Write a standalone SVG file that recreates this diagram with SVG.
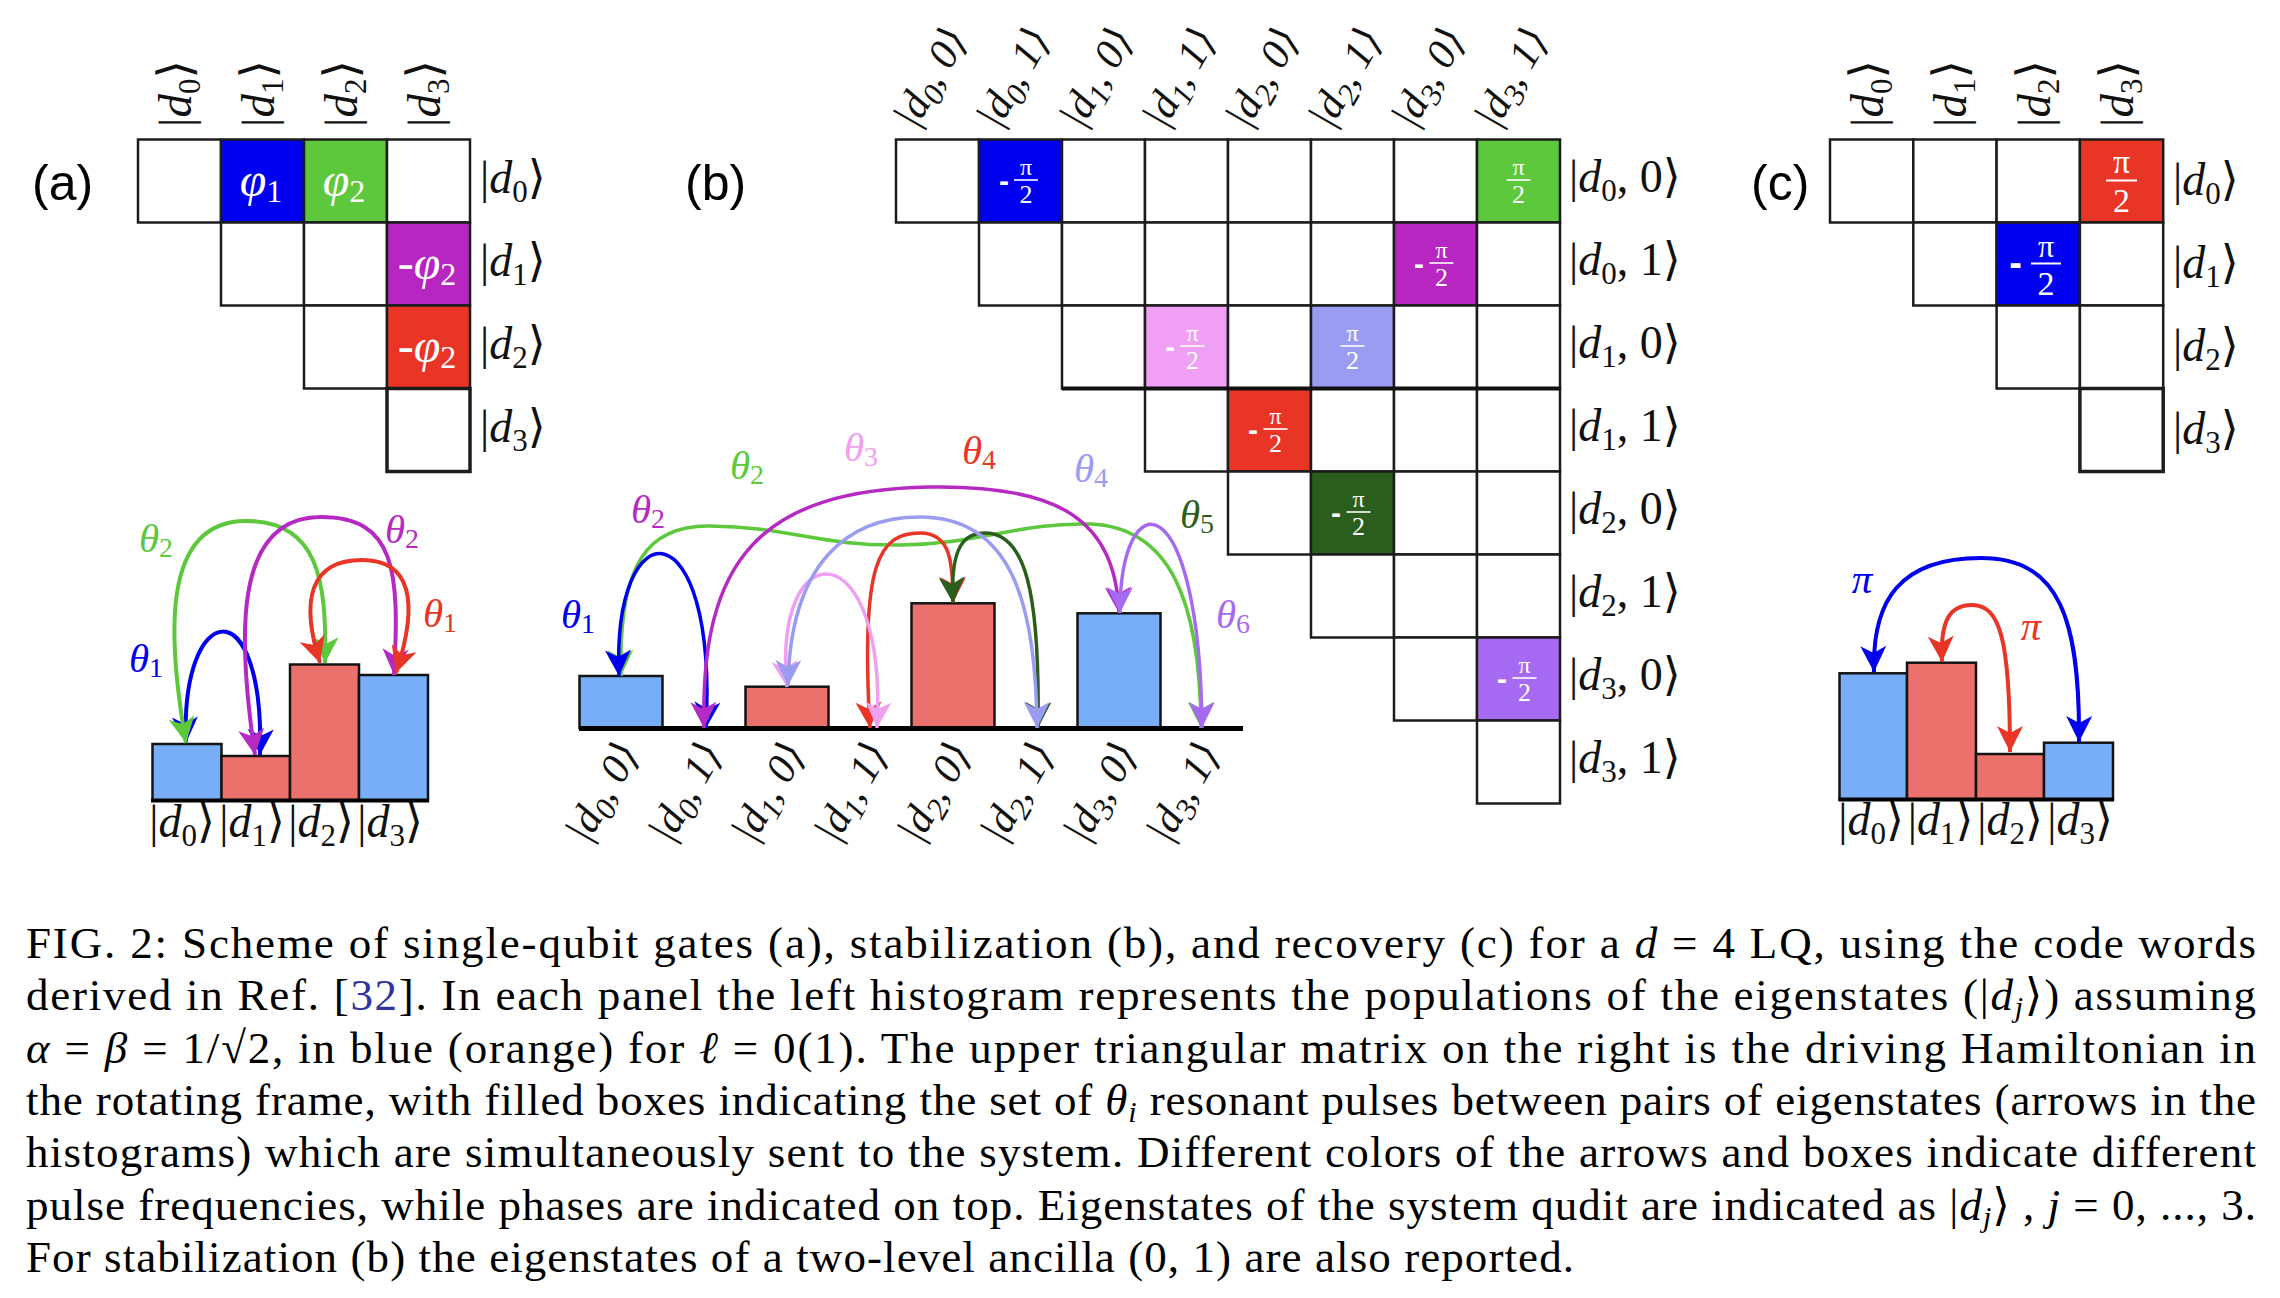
<svg xmlns="http://www.w3.org/2000/svg" width="2280" height="1298" viewBox="0 0 2280 1298">
<defs>
<style>
.cell{fill:#fff;stroke:#1c1c1c;stroke-width:2.5}
.lb{font-family:"Liberation Serif","DejaVu Serif","DejaVu Sans",serif;font-size:46px;fill:#111}
.lr{font-family:"Liberation Serif","DejaVu Serif","DejaVu Sans",serif;font-size:42px;fill:#111;font-style:italic;text-anchor:middle}
.it{font-style:italic}
.sb{font-size:31px}
.pl{font-family:"Liberation Sans","Open Sans",sans-serif;font-size:50px;fill:#000}
.wt{fill:#fff;font-family:"Liberation Serif","DejaVu Serif",serif;text-anchor:middle}
.mn{fill:#fff;font-family:"Liberation Sans",sans-serif;font-weight:bold;text-anchor:middle}
.frl{stroke:#fff;stroke-width:1.6}
.bar{stroke:#141414;stroke-width:2.5}
.qb{fill:#77AEF7}
.qr{fill:#EC706B}
.base{stroke:#000;stroke-width:5}
.ar{fill:none;stroke-width:4}
.th{font-family:"Liberation Serif","DejaVu Serif",serif;font-size:41px;text-anchor:middle}
.cap{font-family:"Liberation Serif","DejaVu Serif","DejaVu Sans",serif;font-size:45px;fill:#000}
</style>
<marker id="hBl" viewBox="-27 -14 28 28" refX="0" refY="0" markerWidth="28" markerHeight="28" markerUnits="userSpaceOnUse" orient="auto-start-reverse"><path d="M0,0 L-26,-13 L-19,0 L-26,13 Z" fill="#0000EE"/></marker>
<marker id="hGr" viewBox="-27 -14 28 28" refX="0" refY="0" markerWidth="28" markerHeight="28" markerUnits="userSpaceOnUse" orient="auto-start-reverse"><path d="M0,0 L-26,-13 L-19,0 L-26,13 Z" fill="#5DC83C"/></marker>
<marker id="hMg" viewBox="-27 -14 28 28" refX="0" refY="0" markerWidth="28" markerHeight="28" markerUnits="userSpaceOnUse" orient="auto-start-reverse"><path d="M0,0 L-26,-13 L-19,0 L-26,13 Z" fill="#B52AC2"/></marker>
<marker id="hRd" viewBox="-27 -14 28 28" refX="0" refY="0" markerWidth="28" markerHeight="28" markerUnits="userSpaceOnUse" orient="auto-start-reverse"><path d="M0,0 L-26,-13 L-19,0 L-26,13 Z" fill="#E83526"/></marker>
<marker id="hPk" viewBox="-27 -14 28 28" refX="0" refY="0" markerWidth="28" markerHeight="28" markerUnits="userSpaceOnUse" orient="auto-start-reverse"><path d="M0,0 L-26,-13 L-19,0 L-26,13 Z" fill="#F0A0F0"/></marker>
<marker id="hLv" viewBox="-27 -14 28 28" refX="0" refY="0" markerWidth="28" markerHeight="28" markerUnits="userSpaceOnUse" orient="auto-start-reverse"><path d="M0,0 L-26,-13 L-19,0 L-26,13 Z" fill="#9A9CF2"/></marker>
<marker id="hDg" viewBox="-27 -14 28 28" refX="0" refY="0" markerWidth="28" markerHeight="28" markerUnits="userSpaceOnUse" orient="auto-start-reverse"><path d="M0,0 L-26,-13 L-19,0 L-26,13 Z" fill="#2B5E1C"/></marker>
<marker id="hPu" viewBox="-27 -14 28 28" refX="0" refY="0" markerWidth="28" markerHeight="28" markerUnits="userSpaceOnUse" orient="auto-start-reverse"><path d="M0,0 L-26,-13 L-19,0 L-26,13 Z" fill="#A66AF2"/></marker>
</defs>
<rect width="2280" height="1298" fill="#fff"/>

<!-- ===== Panel (a) ===== -->
<g id="panel-a">
<text class="pl" x="32" y="200">(a)</text>
<g id="a-matrix">
<rect class="cell" x="138" y="139.5" width="83" height="83"/>
<rect class="cell" x="221" y="139.5" width="83" height="83" style="fill:#0000F0"/>
<rect class="cell" x="304" y="139.5" width="83" height="83" style="fill:#5DC83C"/>
<rect class="cell" x="387" y="139.5" width="83" height="83"/>
<rect class="cell" x="221" y="222.5" width="83" height="83"/>
<rect class="cell" x="304" y="222.5" width="83" height="83"/>
<rect class="cell" x="387" y="222.5" width="83" height="83" style="fill:#B726C0"/>
<rect class="cell" x="304" y="305.5" width="83" height="83"/>
<rect class="cell" x="387" y="305.5" width="83" height="83" style="fill:#E83526"/>
<rect class="cell" x="387" y="388.5" width="83" height="83" style="stroke-width:3.5"/>
<text class="wt" x="261" y="196" font-size="48"><tspan class="it">φ</tspan><tspan font-size="32" dy="6">1</tspan></text>
<text class="wt" x="344" y="196" font-size="48"><tspan class="it">φ</tspan><tspan font-size="32" dy="6">2</tspan></text>
<text class="wt" x="427" y="279" font-size="48">-<tspan class="it">φ</tspan><tspan font-size="32" dy="6">2</tspan></text>
<text class="wt" x="427" y="362" font-size="48">-<tspan class="it">φ</tspan><tspan font-size="32" dy="6">2</tspan></text>
</g>
<g id="a-collabels" class="lb" style="font-size:47px" text-anchor="middle">
<text transform="translate(191,93.5) rotate(-90)">|<tspan class="it">d</tspan><tspan class="sb" dy="9">0</tspan><tspan dy="-9">⟩</tspan></text>
<text transform="translate(274,93.5) rotate(-90)">|<tspan class="it">d</tspan><tspan class="sb" dy="9">1</tspan><tspan dy="-9">⟩</tspan></text>
<text transform="translate(357,93.5) rotate(-90)">|<tspan class="it">d</tspan><tspan class="sb" dy="9">2</tspan><tspan dy="-9">⟩</tspan></text>
<text transform="translate(440,93.5) rotate(-90)">|<tspan class="it">d</tspan><tspan class="sb" dy="9">3</tspan><tspan dy="-9">⟩</tspan></text>
</g>
<g id="a-rowlabels" class="lb">
<text x="480" y="193">|<tspan class="it">d</tspan><tspan class="sb" dy="9">0</tspan><tspan dy="-9">⟩</tspan></text>
<text x="480" y="276">|<tspan class="it">d</tspan><tspan class="sb" dy="9">1</tspan><tspan dy="-9">⟩</tspan></text>
<text x="480" y="359">|<tspan class="it">d</tspan><tspan class="sb" dy="9">2</tspan><tspan dy="-9">⟩</tspan></text>
<text x="480" y="442">|<tspan class="it">d</tspan><tspan class="sb" dy="9">3</tspan><tspan dy="-9">⟩</tspan></text>
</g>
<g id="a-hist">
<g id="a-d0"><rect class="bar qb" x="152.5" y="744" width="69" height="56.5"/><text class="lb" x="182" y="837" text-anchor="middle">|<tspan class="it">d</tspan><tspan class="sb" dy="9">0</tspan><tspan dy="-9">⟩</tspan></text></g>
<g id="a-d1"><rect class="bar qr" x="221.5" y="756" width="68.5" height="44.5"/><text class="lb" x="252" y="837" text-anchor="middle">|<tspan class="it">d</tspan><tspan class="sb" dy="9">1</tspan><tspan dy="-9">⟩</tspan></text></g>
<g id="a-d2"><rect class="bar qr" x="290" y="664.5" width="69" height="136"/><text class="lb" x="321" y="837" text-anchor="middle">|<tspan class="it">d</tspan><tspan class="sb" dy="9">2</tspan><tspan dy="-9">⟩</tspan></text></g>
<g id="a-d3"><rect class="bar qb" x="359" y="675" width="69" height="125.5"/><text class="lb" x="390" y="837" text-anchor="middle">|<tspan class="it">d</tspan><tspan class="sb" dy="9">3</tspan><tspan dy="-9">⟩</tspan></text></g>
<line class="base" x1="151" y1="800.5" x2="429" y2="800.5" style="stroke-width:4"/>
</g>
<g id="a-thetas">
<text class="th" x="156" y="552" fill="#5DC83C"><tspan class="it">θ</tspan><tspan font-size="28" dy="5">2</tspan></text>
<text class="th" x="402" y="543" fill="#B52AC2"><tspan class="it">θ</tspan><tspan font-size="28" dy="5">2</tspan></text>
<text class="th" x="440" y="627" fill="#E83526"><tspan class="it">θ</tspan><tspan font-size="28" dy="5">1</tspan></text>
<text class="th" x="146" y="672" fill="#0000EE"><tspan class="it">θ</tspan><tspan font-size="28" dy="5">1</tspan></text>
</g>
</g>

<!-- ===== Panel (b) ===== -->
<g id="panel-b">
<text class="pl" x="685" y="200">(b)</text>
<g id="b-matrix">
<rect class="cell" x="896" y="139.5" width="83" height="83"/>
<rect class="cell" x="979" y="139.5" width="83" height="83" style="fill:#0000F0"/>
<rect class="cell" x="1062" y="139.5" width="83" height="83"/>
<rect class="cell" x="1145" y="139.5" width="83" height="83"/>
<rect class="cell" x="1228" y="139.5" width="83" height="83"/>
<rect class="cell" x="1311" y="139.5" width="83" height="83"/>
<rect class="cell" x="1394" y="139.5" width="83" height="83"/>
<rect class="cell" x="1477" y="139.5" width="83" height="83" style="fill:#5DC83C"/>
<rect class="cell" x="979" y="222.5" width="83" height="83"/>
<rect class="cell" x="1062" y="222.5" width="83" height="83"/>
<rect class="cell" x="1145" y="222.5" width="83" height="83"/>
<rect class="cell" x="1228" y="222.5" width="83" height="83"/>
<rect class="cell" x="1311" y="222.5" width="83" height="83"/>
<rect class="cell" x="1394" y="222.5" width="83" height="83" style="fill:#B726C0"/>
<rect class="cell" x="1477" y="222.5" width="83" height="83"/>
<rect class="cell" x="1062" y="305.5" width="83" height="83"/>
<rect class="cell" x="1145" y="305.5" width="83" height="83" style="fill:#F0A0F4"/>
<rect class="cell" x="1228" y="305.5" width="83" height="83"/>
<rect class="cell" x="1311" y="305.5" width="83" height="83" style="fill:#9A9CF2"/>
<rect class="cell" x="1394" y="305.5" width="83" height="83"/>
<rect class="cell" x="1477" y="305.5" width="83" height="83"/>
<rect class="cell" x="1145" y="388.5" width="83" height="83"/>
<rect class="cell" x="1228" y="388.5" width="83" height="83" style="fill:#E83526"/>
<rect class="cell" x="1311" y="388.5" width="83" height="83"/>
<rect class="cell" x="1394" y="388.5" width="83" height="83"/>
<rect class="cell" x="1477" y="388.5" width="83" height="83"/>
<rect class="cell" x="1228" y="471.5" width="83" height="83"/>
<rect class="cell" x="1311" y="471.5" width="83" height="83" style="fill:#2B5E1C"/>
<rect class="cell" x="1394" y="471.5" width="83" height="83"/>
<rect class="cell" x="1477" y="471.5" width="83" height="83"/>
<rect class="cell" x="1311" y="554.5" width="83" height="83"/>
<rect class="cell" x="1394" y="554.5" width="83" height="83"/>
<rect class="cell" x="1477" y="554.5" width="83" height="83"/>
<rect class="cell" x="1394" y="637.5" width="83" height="83"/>
<rect class="cell" x="1477" y="637.5" width="83" height="83" style="fill:#A66AF2"/>
<rect class="cell" x="1477" y="720.5" width="83" height="83"/>
<line x1="1062" y1="388.5" x2="1560" y2="388.5" stroke="#111" stroke-width="4"/>
</g>
<g id="b-phases">
<text class="mn" x="1004" y="191" font-size="30">-</text><text class="wt" x="1026" y="175" font-size="24">π</text><line class="frl" x1="1014" y1="180" x2="1038" y2="180"/><text class="wt" x="1026" y="203" font-size="26">2</text>
<text class="wt" x="1518.5" y="175" font-size="24">π</text><line class="frl" x1="1506.5" y1="180" x2="1530.5" y2="180"/><text class="wt" x="1518.5" y="203" font-size="26">2</text>
<text class="mn" x="1419" y="274" font-size="30">-</text><text class="wt" x="1441.5" y="258" font-size="24">π</text><line class="frl" x1="1429.5" y1="263" x2="1453.5" y2="263"/><text class="wt" x="1441.5" y="286" font-size="26">2</text>
<text class="mn" x="1170" y="357" font-size="30">-</text><text class="wt" x="1192.5" y="341" font-size="24">π</text><line class="frl" x1="1180.5" y1="346" x2="1204.5" y2="346"/><text class="wt" x="1192.5" y="369" font-size="26">2</text>
<text class="wt" x="1352.5" y="341" font-size="24">π</text><line class="frl" x1="1340.5" y1="346" x2="1364.5" y2="346"/><text class="wt" x="1352.5" y="369" font-size="26">2</text>
<text class="mn" x="1253" y="440" font-size="30">-</text><text class="wt" x="1275.5" y="424" font-size="24">π</text><line class="frl" x1="1263.5" y1="429" x2="1287.5" y2="429"/><text class="wt" x="1275.5" y="452" font-size="26">2</text>
<text class="mn" x="1336" y="523" font-size="30">-</text><text class="wt" x="1358.5" y="507" font-size="24">π</text><line class="frl" x1="1346.5" y1="512" x2="1370.5" y2="512"/><text class="wt" x="1358.5" y="535" font-size="26">2</text>
<text class="mn" x="1502" y="689" font-size="30">-</text><text class="wt" x="1524.5" y="673" font-size="24">π</text><line class="frl" x1="1512.5" y1="678" x2="1536.5" y2="678"/><text class="wt" x="1524.5" y="701" font-size="26">2</text>
</g>
<g id="b-collabels" class="lr">
<text transform="translate(942,84.5) rotate(-60)">|d<tspan class="sb" dy="8">0</tspan><tspan dy="-8">, 0⟩</tspan></text>
<text transform="translate(1025,84.5) rotate(-60)">|d<tspan class="sb" dy="8">0</tspan><tspan dy="-8">, 1⟩</tspan></text>
<text transform="translate(1108,84.5) rotate(-60)">|d<tspan class="sb" dy="8">1</tspan><tspan dy="-8">, 0⟩</tspan></text>
<text transform="translate(1191,84.5) rotate(-60)">|d<tspan class="sb" dy="8">1</tspan><tspan dy="-8">, 1⟩</tspan></text>
<text transform="translate(1274,84.5) rotate(-60)">|d<tspan class="sb" dy="8">2</tspan><tspan dy="-8">, 0⟩</tspan></text>
<text transform="translate(1357,84.5) rotate(-60)">|d<tspan class="sb" dy="8">2</tspan><tspan dy="-8">, 1⟩</tspan></text>
<text transform="translate(1440,84.5) rotate(-60)">|d<tspan class="sb" dy="8">3</tspan><tspan dy="-8">, 0⟩</tspan></text>
<text transform="translate(1523,84.5) rotate(-60)">|d<tspan class="sb" dy="8">3</tspan><tspan dy="-8">, 1⟩</tspan></text>
</g>
<g id="b-rowlabels" class="lb">
<text x="1569" y="192">|<tspan class="it">d</tspan><tspan class="sb" dy="9">0</tspan><tspan dy="-9">, 0⟩</tspan></text>
<text x="1569" y="275">|<tspan class="it">d</tspan><tspan class="sb" dy="9">0</tspan><tspan dy="-9">, 1⟩</tspan></text>
<text x="1569" y="358">|<tspan class="it">d</tspan><tspan class="sb" dy="9">1</tspan><tspan dy="-9">, 0⟩</tspan></text>
<text x="1569" y="441">|<tspan class="it">d</tspan><tspan class="sb" dy="9">1</tspan><tspan dy="-9">, 1⟩</tspan></text>
<text x="1569" y="524">|<tspan class="it">d</tspan><tspan class="sb" dy="9">2</tspan><tspan dy="-9">, 0⟩</tspan></text>
<text x="1569" y="607">|<tspan class="it">d</tspan><tspan class="sb" dy="9">2</tspan><tspan dy="-9">, 1⟩</tspan></text>
<text x="1569" y="690">|<tspan class="it">d</tspan><tspan class="sb" dy="9">3</tspan><tspan dy="-9">, 0⟩</tspan></text>
<text x="1569" y="773">|<tspan class="it">d</tspan><tspan class="sb" dy="9">3</tspan><tspan dy="-9">, 1⟩</tspan></text>
</g>
<g id="b-hist">
<g id="b-d0-0"><rect class="bar qb" x="579.5" y="676" width="83" height="52"/></g>
<g id="b-d1-0"><rect class="bar qr" x="745.5" y="686.7" width="83" height="41.3"/></g>
<g id="b-d2-0"><rect class="bar qr" x="911.5" y="603.3" width="83" height="124.7"/></g>
<g id="b-d3-0"><rect class="bar qb" x="1077.5" y="613.3" width="83" height="114.7"/></g>
<line class="base" x1="579" y1="728.5" x2="1243" y2="728.5"/>
</g>
<g id="b-botlabels" class="lr">
<text transform="translate(614,799) rotate(-60)">|d<tspan class="sb" dy="8">0</tspan><tspan dy="-8">, 0⟩</tspan></text>
<text transform="translate(697,799) rotate(-60)">|d<tspan class="sb" dy="8">0</tspan><tspan dy="-8">, 1⟩</tspan></text>
<text transform="translate(780,799) rotate(-60)">|d<tspan class="sb" dy="8">1</tspan><tspan dy="-8">, 0⟩</tspan></text>
<text transform="translate(863,799) rotate(-60)">|d<tspan class="sb" dy="8">1</tspan><tspan dy="-8">, 1⟩</tspan></text>
<text transform="translate(946,799) rotate(-60)">|d<tspan class="sb" dy="8">2</tspan><tspan dy="-8">, 0⟩</tspan></text>
<text transform="translate(1029,799) rotate(-60)">|d<tspan class="sb" dy="8">2</tspan><tspan dy="-8">, 1⟩</tspan></text>
<text transform="translate(1112,799) rotate(-60)">|d<tspan class="sb" dy="8">3</tspan><tspan dy="-8">, 0⟩</tspan></text>
<text transform="translate(1195,799) rotate(-60)">|d<tspan class="sb" dy="8">3</tspan><tspan dy="-8">, 1⟩</tspan></text>
</g>
<g id="b-thetas">
<text class="th" x="578" y="628" fill="#0000EE"><tspan class="it">θ</tspan><tspan font-size="28" dy="5">1</tspan></text>
<text class="th" x="648" y="523" fill="#B52AC2"><tspan class="it">θ</tspan><tspan font-size="28" dy="5">2</tspan></text>
<text class="th" x="747" y="479" fill="#5DC83C"><tspan class="it">θ</tspan><tspan font-size="28" dy="5">2</tspan></text>
<text class="th" x="861" y="461" fill="#F0A0F0"><tspan class="it">θ</tspan><tspan font-size="28" dy="5">3</tspan></text>
<text class="th" x="979" y="464" fill="#E83526"><tspan class="it">θ</tspan><tspan font-size="28" dy="5">4</tspan></text>
<text class="th" x="1091" y="482" fill="#9A9CF2"><tspan class="it">θ</tspan><tspan font-size="28" dy="5">4</tspan></text>
<text class="th" x="1197" y="528" fill="#2B5E1C"><tspan class="it">θ</tspan><tspan font-size="28" dy="5">5</tspan></text>
<text class="th" x="1233" y="628" fill="#A66AF2"><tspan class="it">θ</tspan><tspan font-size="28" dy="5">6</tspan></text>
</g>
</g>

<!-- ===== Panel (c) ===== -->
<g id="panel-c">
<text class="pl" x="1751" y="200">(c)</text>
<g id="c-matrix">
<rect class="cell" x="1830" y="139.5" width="83.3" height="83"/>
<rect class="cell" x="1913.3" y="139.5" width="83.3" height="83"/>
<rect class="cell" x="1996.6" y="139.5" width="83.3" height="83"/>
<rect class="cell" x="2079.9" y="139.5" width="83.3" height="83" style="fill:#E83526"/>
<rect class="cell" x="1913.3" y="222.5" width="83.3" height="83"/>
<rect class="cell" x="1996.6" y="222.5" width="83.3" height="83" style="fill:#0000F0"/>
<rect class="cell" x="2079.9" y="222.5" width="83.3" height="83"/>
<rect class="cell" x="1996.6" y="305.5" width="83.3" height="83"/>
<rect class="cell" x="2079.9" y="305.5" width="83.3" height="83"/>
<rect class="cell" x="2079.9" y="388.5" width="83.3" height="83" style="stroke-width:3.5"/>
<text class="wt" x="2121.5" y="173" font-size="34">π</text><line class="frl" x1="2106" y1="180.5" x2="2137" y2="180.5" style="stroke-width:2"/><text class="wt" x="2121.5" y="212" font-size="34">2</text>
<text class="mn" x="2015.5" y="276" font-size="38">-</text><text class="wt" x="2046" y="257" font-size="32">π</text><line class="frl" x1="2031" y1="263.5" x2="2061" y2="263.5" style="stroke-width:2"/><text class="wt" x="2046" y="295" font-size="34">2</text>
</g>
<g id="c-collabels" class="lb" style="font-size:47px" text-anchor="middle">
<text transform="translate(1883,93.5) rotate(-90)">|<tspan class="it">d</tspan><tspan class="sb" dy="9">0</tspan><tspan dy="-9">⟩</tspan></text>
<text transform="translate(1966.3,93.5) rotate(-90)">|<tspan class="it">d</tspan><tspan class="sb" dy="9">1</tspan><tspan dy="-9">⟩</tspan></text>
<text transform="translate(2049.6,93.5) rotate(-90)">|<tspan class="it">d</tspan><tspan class="sb" dy="9">2</tspan><tspan dy="-9">⟩</tspan></text>
<text transform="translate(2133,93.5) rotate(-90)">|<tspan class="it">d</tspan><tspan class="sb" dy="9">3</tspan><tspan dy="-9">⟩</tspan></text>
</g>
<g id="c-rowlabels" class="lb">
<text x="2173" y="195">|<tspan class="it">d</tspan><tspan class="sb" dy="9">0</tspan><tspan dy="-9">⟩</tspan></text>
<text x="2173" y="278">|<tspan class="it">d</tspan><tspan class="sb" dy="9">1</tspan><tspan dy="-9">⟩</tspan></text>
<text x="2173" y="361">|<tspan class="it">d</tspan><tspan class="sb" dy="9">2</tspan><tspan dy="-9">⟩</tspan></text>
<text x="2173" y="444">|<tspan class="it">d</tspan><tspan class="sb" dy="9">3</tspan><tspan dy="-9">⟩</tspan></text>
</g>
<g id="c-hist">
<g id="c-d0"><rect class="bar qb" x="1839.5" y="673.3" width="67.5" height="126.2"/><text class="lb" x="1871" y="835" text-anchor="middle">|<tspan class="it">d</tspan><tspan class="sb" dy="9">0</tspan><tspan dy="-9">⟩</tspan></text></g>
<g id="c-d1"><rect class="bar qr" x="1907" y="662.7" width="69" height="136.8"/><text class="lb" x="1940.5" y="835" text-anchor="middle">|<tspan class="it">d</tspan><tspan class="sb" dy="9">1</tspan><tspan dy="-9">⟩</tspan></text></g>
<g id="c-d2"><rect class="bar qr" x="1976" y="754" width="68" height="45.5"/><text class="lb" x="2010" y="835" text-anchor="middle">|<tspan class="it">d</tspan><tspan class="sb" dy="9">2</tspan><tspan dy="-9">⟩</tspan></text></g>
<g id="c-d3"><rect class="bar qb" x="2044" y="742.7" width="69" height="56.8"/><text class="lb" x="2080" y="835" text-anchor="middle">|<tspan class="it">d</tspan><tspan class="sb" dy="9">3</tspan><tspan dy="-9">⟩</tspan></text></g>
<line class="base" x1="1838.5" y1="799.5" x2="2114" y2="799.5" style="stroke-width:4"/>
</g>
<g id="c-labels">
<text class="th" x="1862" y="593" fill="#0000EE" font-size="36"><tspan class="it">π</tspan></text>
<text class="th" x="2031" y="640" fill="#E83526" font-size="36"><tspan class="it">π</tspan></text>
</g>
</g>

<!-- ===== Connectors ===== -->
<g id="connectors">
<g id="a-arrows" class="ar">
<path d="M186,743 C180,600 265,585 260,755" stroke="#0000EE" marker-start="url(#hBl)" marker-end="url(#hBl)"/>
<path d="M186,743 C168,640 160,522 245,521 C318,520 327,580 325,663" stroke="#5DC83C" marker-start="url(#hGr)" marker-end="url(#hGr)"/>
<path d="M255,755 C238,640 232,517 321,517 C395,517 400,570 394,675" stroke="#B52AC2" marker-start="url(#hMg)" marker-end="url(#hMg)"/>
<path d="M320,663 C300,600 310,560 362,560 C410,560 420,600 396,673" stroke="#E83526" marker-start="url(#hRd)" marker-end="url(#hRd)"/>
</g>
<g id="b-arrows" class="ar" style="stroke-width:3.5">
<path d="M621,676 C618,560 650,525 710,526 C790,527 820,546 900,545 C980,544 1020,522 1090,524 C1170,527 1200,600 1201,728" stroke="#5DC83C" marker-start="url(#hGr)" marker-end="url(#hGr)"/>
<path d="M619,676 C612,505 718,505 706,728" stroke="#0000EE" marker-start="url(#hBl)" marker-end="url(#hBl)"/>
<path d="M704,728 C700,560 760,490 930,487 C1060,485 1115,520 1119,613" stroke="#B52AC2" marker-start="url(#hMg)" marker-end="url(#hMg)"/>
<path d="M870,728 C860,560 880,533 920,533 C950,533 953,560 953,603" stroke="#E83526" marker-start="url(#hRd)" marker-end="url(#hRd)"/>
<path d="M953,603 C950,545 965,533 985,533 C1025,533 1040,590 1038,728" stroke="#2B5E1C" marker-start="url(#hDg)" marker-end="url(#hDg)"/>
<path d="M787,687 C772,530 888,530 877,728" stroke="#F0A0F0" marker-start="url(#hPk)" marker-end="url(#hPk)"/>
<path d="M788,686 C790,560 850,517 920,517 C1010,517 1036,600 1037,728" stroke="#9A9CF2" marker-start="url(#hLv)" marker-end="url(#hLv)"/>
<path d="M1120,613 C1120,480 1200,480 1202,728" stroke="#A66AF2" marker-start="url(#hPu)" marker-end="url(#hPu)"/>
</g>
<g id="c-arrows" class="ar">
<path d="M1874,672 C1872,600 1900,558 1981,558 C2060,558 2080,620 2079,742" stroke="#0000EE" marker-start="url(#hBl)" marker-end="url(#hBl)"/>
<path d="M1942,662 C1940,620 1950,605 1972,605 C2000,605 2010,640 2010,752" stroke="#E83526" marker-start="url(#hRd)" marker-end="url(#hRd)"/>
</g>
</g>

<!-- ===== Caption ===== -->
<g id="caption" class="cap">
<text x="26" y="958" textLength="2230" lengthAdjust="spacing">FIG. 2: Scheme of single-qubit gates (a), stabilization (b), and recovery (c) for a <tspan class="it">d</tspan> = 4 LQ, using the code words</text>
<text x="26" y="1010" textLength="2230" lengthAdjust="spacing">derived in Ref. [<tspan fill="#3333A0">32</tspan>]. In each panel the left histogram represents the populations of the eigenstates (|<tspan class="it">d</tspan><tspan class="it" font-size="30" dy="7">j</tspan><tspan dy="-7">⟩) assuming</tspan></text>
<text x="26" y="1063" textLength="2230" lengthAdjust="spacing"><tspan class="it">α</tspan> = <tspan class="it">β</tspan> = 1/√2, in blue (orange) for <tspan class="it">ℓ</tspan> = 0(1). The upper triangular matrix on the right is the driving Hamiltonian in</text>
<text x="26" y="1115" textLength="2230" lengthAdjust="spacing">the rotating frame, with filled boxes indicating the set of <tspan class="it">θ</tspan><tspan class="it" font-size="30" dy="7">i</tspan><tspan dy="-7"> resonant pulses between pairs of eigenstates (arrows in the</tspan></text>
<text x="26" y="1167" textLength="2230" lengthAdjust="spacing">histograms) which are simultaneously sent to the system. Different colors of the arrows and boxes indicate different</text>
<text x="26" y="1220" textLength="2230" lengthAdjust="spacing">pulse frequencies, while phases are indicated on top. Eigenstates of the system qudit are indicated as |<tspan class="it">d</tspan><tspan class="it" font-size="30" dy="7">j</tspan><tspan dy="-7">⟩ , </tspan><tspan class="it">j</tspan> = 0, ..., 3.</text>
<text x="26" y="1272" textLength="1548" lengthAdjust="spacing">For stabilization (b) the eigenstates of a two-level ancilla (0, 1) are also reported.</text>
</g>
</svg>
